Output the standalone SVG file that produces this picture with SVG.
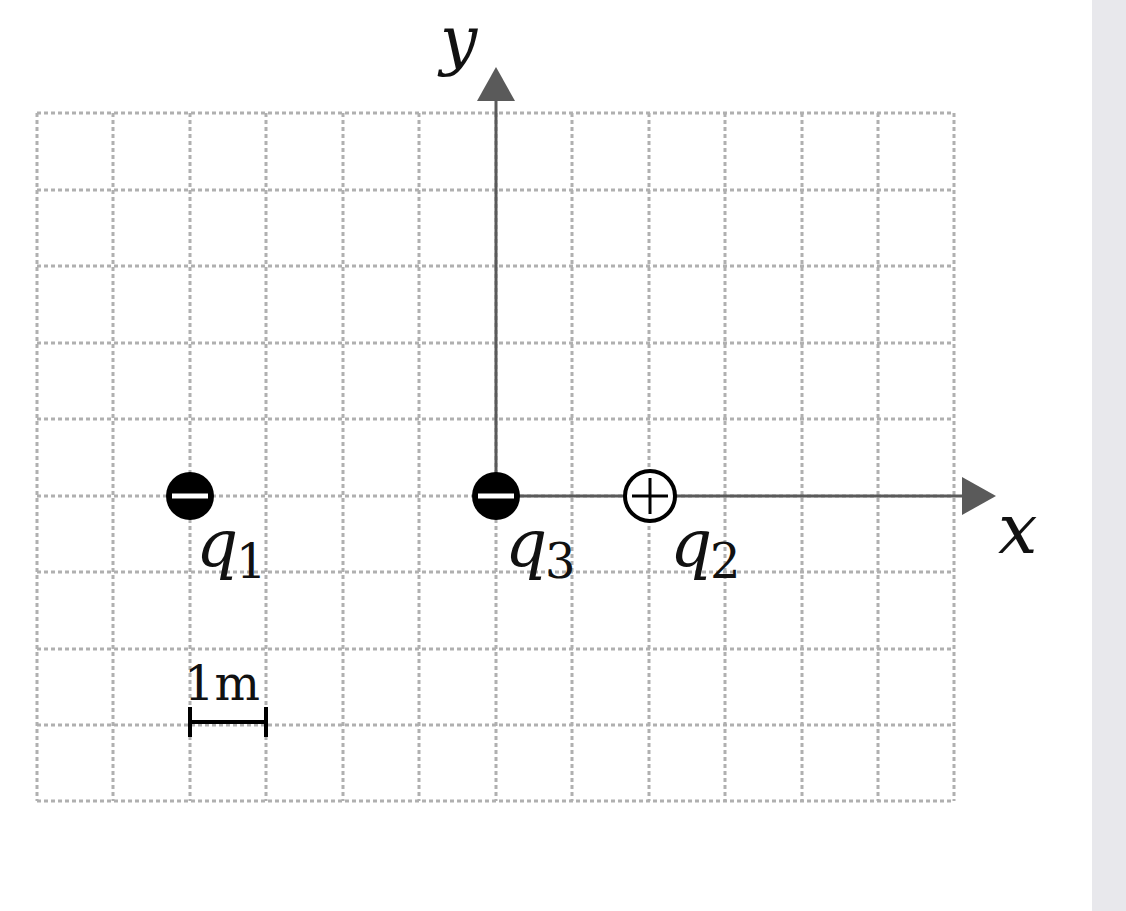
<svg xmlns="http://www.w3.org/2000/svg" width="1126" height="911" viewBox="0 0 1126 911">
<style>
.g{stroke:#b0b0b0;stroke-width:3;stroke-dasharray:4 3;fill:none}
.ax{stroke:#5a5a5a;stroke-width:3;fill:none}
.it{font-family:"DejaVu Serif","Liberation Serif",serif;font-style:italic;fill:#111}
.rm{font-family:"DejaVu Serif","Liberation Serif",serif;fill:#111}
</style>
<rect width="1126" height="911" fill="#fff"/>
<rect x="1092" y="0" width="34" height="911" fill="#e8e8ec"/>
<g id="grid" class="g">
<path d="M37,113V801M113,113V801M190,113V801M266,113V801M343,113V801M419,113V801M496,113V801M572,113V801M649,113V801M725,113V801M802,113V801M878,113V801M954,113V801"/>
<path d="M37,113H954M37,190H954M37,266H954M37,343H954M37,419H954M37,496H954M37,572H954M37,649H954M37,725H954M37,801H954"/>
</g>
<g id="connectors">
<line class="ax" x1="496" y1="496" x2="496" y2="100"/>
<path d="M496,67 L515,101 L477,101 Z" fill="#5a5a5a"/>
<line class="ax" x1="496" y1="496" x2="962" y2="496"/>
<path d="M996,496 L962,477 L962,515 Z" fill="#5a5a5a"/>
</g>
<g id="q1"><circle cx="190" cy="496" r="24" fill="#000"/><line x1="172" y1="496" x2="208" y2="496" stroke="#fff" stroke-width="5"/>
<text class="it" x="196" y="566" font-size="66">q</text><text class="rm" x="236" y="578" font-size="48">1</text></g>
<g id="q3"><circle cx="496" cy="496" r="24" fill="#000"/><line x1="478" y1="496" x2="514" y2="496" stroke="#fff" stroke-width="5"/>
<text class="it" x="505" y="566" font-size="66">q</text><text class="rm" x="545" y="578" font-size="48">3</text></g>
<g id="q2"><circle cx="650" cy="496" r="25" fill="#fff" stroke="#000" stroke-width="4"/><path d="M632,496H668M650,478V514" stroke="#000" stroke-width="3"/>
<text class="it" x="670" y="566" font-size="66">q</text><text class="rm" x="710" y="578" font-size="48">2</text></g>
<text class="it" x="998" y="553" font-size="70">x</text>
<text class="it" x="440" y="62" font-size="66">y</text>
<g id="scale"><text class="rm" x="184" y="700" font-size="48">1m</text>
<path d="M190,722H266M190,707V737M266,707V737" stroke="#000" stroke-width="4"/></g>
</svg>
